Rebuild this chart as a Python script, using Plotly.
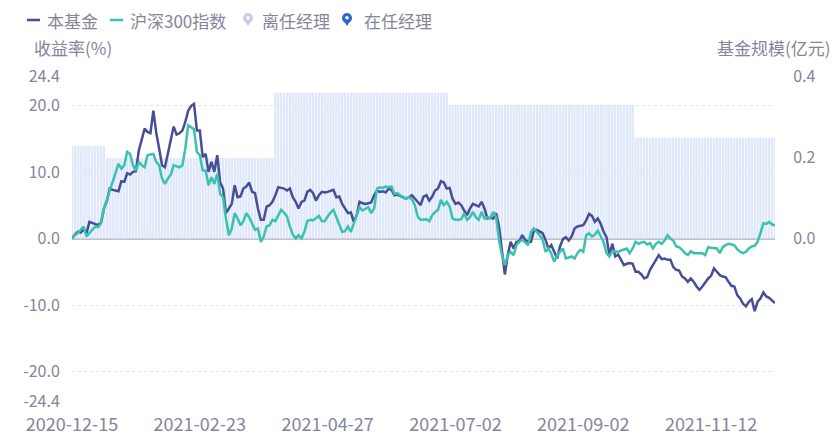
import pandas as pd
import plotly.graph_objects as go

# ---------------- data ----------------
holidays = ["2021-01-01", "2021-02-11", "2021-02-12", "2021-02-15", "2021-02-16", "2021-02-17",
            "2021-04-05", "2021-05-03", "2021-05-04", "2021-05-05", "2021-06-14",
            "2021-09-20", "2021-09-21", "2021-10-01", "2021-10-04", "2021-10-05",
            "2021-10-06", "2021-10-07"]
dates = [d.strftime("%Y-%m-%d") for d in
         pd.bdate_range("2020-12-15", periods=243, freq="C", holidays=holidays)]

tick_labels = ["2020-12-15", "2021-02-23", "2021-04-27", "2021-07-02", "2021-09-02", "2021-11-12"]
tick_index = [0, 44, 88, 132, 176, 220]

fund = [
    0.0, 0.6, 1.0, 0.9, 1.4, 0.8, 2.5, 2.3, 2.2, 2.0,
    2.4, 4.5, 5.6, 7.5, 7.3, 7.2, 7.1, 8.6, 8.5, 9.8,
    9.6, 10.0, 10.1, 13.2, 15.0, 16.5, 16.0, 15.8, 19.2, 15.9,
    13.5, 11.0, 10.7, 12.8, 15.0, 16.8, 15.6, 15.8, 16.2, 17.5,
    19.2, 19.9, 20.2, 16.2, 16.2, 12.2, 12.7, 10.0, 11.5, 10.0,
    12.5, 8.4, 7.5, 3.8, 4.5, 5.2, 8.0, 6.2, 6.3, 7.5,
    7.8, 8.4, 7.0, 6.8, 4.5, 2.8, 2.8, 4.8, 5.0, 5.5,
    6.5, 7.7, 7.6, 7.5, 7.2, 7.5, 6.2, 5.5, 4.5, 5.5,
    5.7, 7.0, 7.3, 6.8, 5.7, 6.5, 7.0, 6.9, 7.0, 7.1,
    7.3, 6.2, 6.3, 5.2, 4.5, 3.8, 3.9, 2.5, 3.5, 5.5,
    5.3, 5.2, 5.3, 5.4, 6.5, 7.2, 7.0, 7.1, 6.9, 7.5,
    7.3, 6.5, 6.6, 6.4, 6.1, 6.0, 6.2, 6.5, 6.0, 5.5,
    5.0, 6.3, 6.5, 5.7, 6.3, 7.2, 7.5, 8.6, 8.4, 7.5,
    7.6, 6.0, 5.2, 5.4, 5.0, 4.2, 3.5, 4.5, 5.2, 5.0,
    4.8, 5.5, 4.5, 3.0, 3.1, 3.0, 3.8, 1.8, -2.2, -5.4,
    -2.5, -0.5, -1.5, -0.5, -0.4, 0.5, -0.2, -0.5, -0.5, 1.2,
    1.3, 1.1, 0.8, -0.2, -1.5, -1.0, -2.0, -3.0, -1.2, -0.1,
    0.2, -0.3, 0.3, 1.5, 1.8, 1.9, 2.0, 2.7, 3.7, 3.4,
    2.5, 3.0, 2.2, 1.0, 0.2, -2.5, -0.8, -2.7, -2.4, -3.2,
    -4.0, -3.8, -3.7, -3.8, -5.0, -5.0, -5.4, -6.0, -5.8, -4.7,
    -4.0, -3.2, -2.5, -3.1, -3.0, -3.2, -3.2, -4.3, -4.7, -4.8,
    -5.7, -6.0, -6.5, -6.0, -6.5, -7.2, -7.7, -7.2, -6.5, -6.0,
    -5.6, -4.5, -5.0, -5.5, -5.7, -5.8, -6.5, -7.1, -7.2, -8.5,
    -9.0, -9.8, -10.2, -9.5, -9.1, -10.9, -9.5, -9.0, -8.1, -8.7,
    -8.9, -9.3, -9.7,
]

hs300 = [
    0.0, 0.5, 0.8, 1.3, 1.8, 0.3, 0.8, 1.3, 1.8, 1.7,
    2.3, 4.5, 6.0, 7.2, 8.5, 9.8, 11.2, 10.5, 11.0, 13.0,
    12.7, 11.0, 10.2, 11.5, 11.0, 10.7, 12.5, 12.6, 12.7, 11.5,
    11.0, 9.0, 8.2, 9.0, 9.6, 11.0, 10.8, 10.7, 11.0, 13.5,
    17.0, 16.7, 16.4, 13.0, 12.5, 10.2, 10.2, 8.0, 9.2, 8.2,
    9.7, 6.7, 6.2, 3.0, 0.5, 1.5, 3.8, 3.0, 2.0, 2.6,
    3.8, 3.2, 2.3, 1.3, 1.5, -0.5, 0.3, 1.8, 2.0, 2.8,
    2.6, 3.5, 4.3, 3.9, 3.3, 1.8, 0.6, 0.0, 0.5, 0.0,
    1.0, 2.6, 2.8, 2.7, 3.0, 3.4, 2.6, 2.6, 3.3, 3.9,
    4.3, 3.2, 2.0, 1.0, 1.1, 1.8, 1.0, 2.2, 3.3, 4.7,
    4.2, 4.5, 4.7, 3.8, 4.5, 7.5, 7.7, 7.6, 7.8, 7.7,
    7.8, 6.7, 6.8, 6.5, 6.3, 6.0, 6.2, 5.9, 5.0, 3.3,
    2.8, 2.8, 2.9, 2.6, 3.5, 4.0, 4.3, 5.8, 5.0, 5.5,
    4.8, 3.0, 2.8, 2.8, 2.9, 3.8, 2.8, 3.2, 4.0, 3.2,
    2.8, 4.0, 3.0, 3.2, 3.1, 4.0, 3.2, -0.2, -2.5, -4.0,
    -2.5, -2.0, -2.5, -1.0, -0.5, -0.2, -0.6, -1.0, 1.0, 1.5,
    1.0, 0.5, -0.2, -2.0, -1.5, -2.3, -3.5, -2.5, -2.0, -1.5,
    -3.0, -2.8, -2.7, -3.0, -2.2, -1.7, -2.0, 0.5, 0.8, 0.3,
    0.6, 1.2, 0.4, -0.5, -2.2, -2.7, -1.9, -2.0, -2.0, -1.8,
    -1.7, -1.5, -2.2, -1.5, -0.5, -0.8, -0.6, -0.5, -0.9, -0.7,
    -1.5, -0.8, -0.5, -0.8, -0.3, 0.5, 0.0, -0.3, -1.2, -1.3,
    -1.7, -2.2, -2.5, -1.9, -2.2, -2.2, -2.3, -2.2, -2.5, -1.3,
    -1.4, -1.4, -1.5, -2.2, -1.3, -1.0, -0.8, -0.9, -1.0, -1.6,
    -2.0, -2.2, -2.0, -1.5, -1.2, -1.1, -0.5, 0.8, 2.3, 2.2,
    2.5, 2.1, 2.0,
]

# fund size (亿元) by report date
size_dates = ["2020-12-15", "2020-12-31", "2021-03-31", "2021-06-30", "2021-09-30"]
size_values = [0.228, 0.198, 0.359, 0.329, 0.248]

fund_size = []
for d in dates:
    v = size_values[0]
    for sd, sv in zip(size_dates, size_values):
        if d >= sd:
            v = sv
    fund_size.append(v)

# ---------------- styling ----------------
FONT = "Noto Sans CJK SC"
TXT = "#85859a"
DARK = "#474e97"
TEAL = "#3bc1b0"
PL, PR, PT, PB = 72, 775, 76, 401
W, H = PR - PL, PB - PT


def xp(X):
    return (X - PL) / W


def yp(Y):
    return (PB - Y) / H


fig = go.Figure()

fig.add_trace(go.Bar(x=dates, y=fund_size, yaxis="y", marker=dict(color="#dee8fa", line=dict(width=0)),
                     showlegend=False, hoverinfo="skip"))
fig.add_trace(go.Scatter(x=dates, y=fund, yaxis="y2", mode="lines", name="本基金",
                         line=dict(color=DARK, width=2.5), showlegend=False))
fig.add_trace(go.Scatter(x=dates, y=hs300, yaxis="y2", mode="lines", name="沪深300指数",
                         line=dict(color=TEAL, width=2.5), showlegend=False))

left_ticks = [-24.4, -20, -10, 0, 10, 20, 24.4]

fig.update_layout(
    width=835, height=441,
    margin=dict(l=PL, r=835 - PR, t=PT, b=441 - PB, autoexpand=False),
    paper_bgcolor="white", plot_bgcolor="white",
    font=dict(family=FONT, color=TXT, size=16),
    bargap=0.22,
    hovermode=False,
    xaxis=dict(type="category", range=[0, len(dates) - 1], automargin=False,
               tickvals=[dates[i] for i in tick_index], ticktext=tick_labels,
               showgrid=False, zeroline=False, showline=False,
               ticks="outside", ticklen=7, tickcolor="rgba(0,0,0,0)",
               tickfont=dict(size=18, color=TXT, family=FONT)),
    yaxis=dict(side="right", range=[-0.4, 0.4], tickvals=[0, 0.2, 0.4], automargin=False,
               ticktext=["0.0", "0.2", "0.4"], showgrid=False, zeroline=False,
               showline=False, ticks="outside", ticklen=14, tickcolor="rgba(0,0,0,0)",
               tickfont=dict(size=16, color=TXT, family=FONT)),
    yaxis2=dict(side="left", overlaying="y", range=[-24.4, 24.4], tickvals=left_ticks,
                ticktext=[f"{v:.1f}" for v in left_ticks], automargin=False,
                showgrid=True, gridcolor="#e4e4ec", griddash="dot", gridwidth=1,
                zeroline=True, zerolinecolor="#c3c3ce", zerolinewidth=2,
                showline=False, ticks="outside", ticklen=8, tickcolor="rgba(0,0,0,0)",
                tickfont=dict(size=16, color=TXT, family=FONT)),
)

ann = [
    dict(text="收益率(%)", x=xp(32), y=yp(47), xanchor="left"),
    dict(text="基金规模(亿元)", x=xp(833), y=yp(47), xanchor="right"),
    dict(text="本基金", x=xp(45), y=yp(20), xanchor="left"),
    dict(text="沪深300指数", x=xp(128), y=yp(20), xanchor="left"),
    dict(text="离任经理", x=xp(260), y=yp(20), xanchor="left"),
    dict(text="在任经理", x=xp(362), y=yp(20), xanchor="left"),
]
for a in ann:
    fig.add_annotation(xref="paper", yref="paper", yanchor="middle", showarrow=False,
                       font=dict(size=17, color=TXT, family=FONT), **a)

shapes = [
    dict(type="line", x0=xp(27), x1=xp(40), y0=yp(20), y1=yp(20), line=dict(color=DARK, width=2.5)),
    dict(type="line", x0=xp(110), x1=xp(123), y0=yp(20), y1=yp(20), line=dict(color=TEAL, width=2.5)),
]
for cx, col in [(248, "#c9cce6"), (347, "#2f63d8")]:
    shapes.append(dict(type="path",
                       path=f"M {xp(cx - 4.5)} {yp(19)} L {xp(cx)} {yp(26)} L {xp(cx + 4.5)} {yp(19)} Z",
                       fillcolor=col, line=dict(width=0)))
    shapes.append(dict(type="circle", x0=xp(cx - 5), x1=xp(cx + 5), y0=yp(23), y1=yp(13),
                       fillcolor=col, line=dict(width=0)))
    shapes.append(dict(type="circle", x0=xp(cx - 1.8), x1=xp(cx + 1.8), y0=yp(19.6), y1=yp(16),
                       fillcolor="white", line=dict(width=0)))
for s in shapes:
    fig.add_shape(xref="paper", yref="paper", **s)

fig.write_html("out.html")
